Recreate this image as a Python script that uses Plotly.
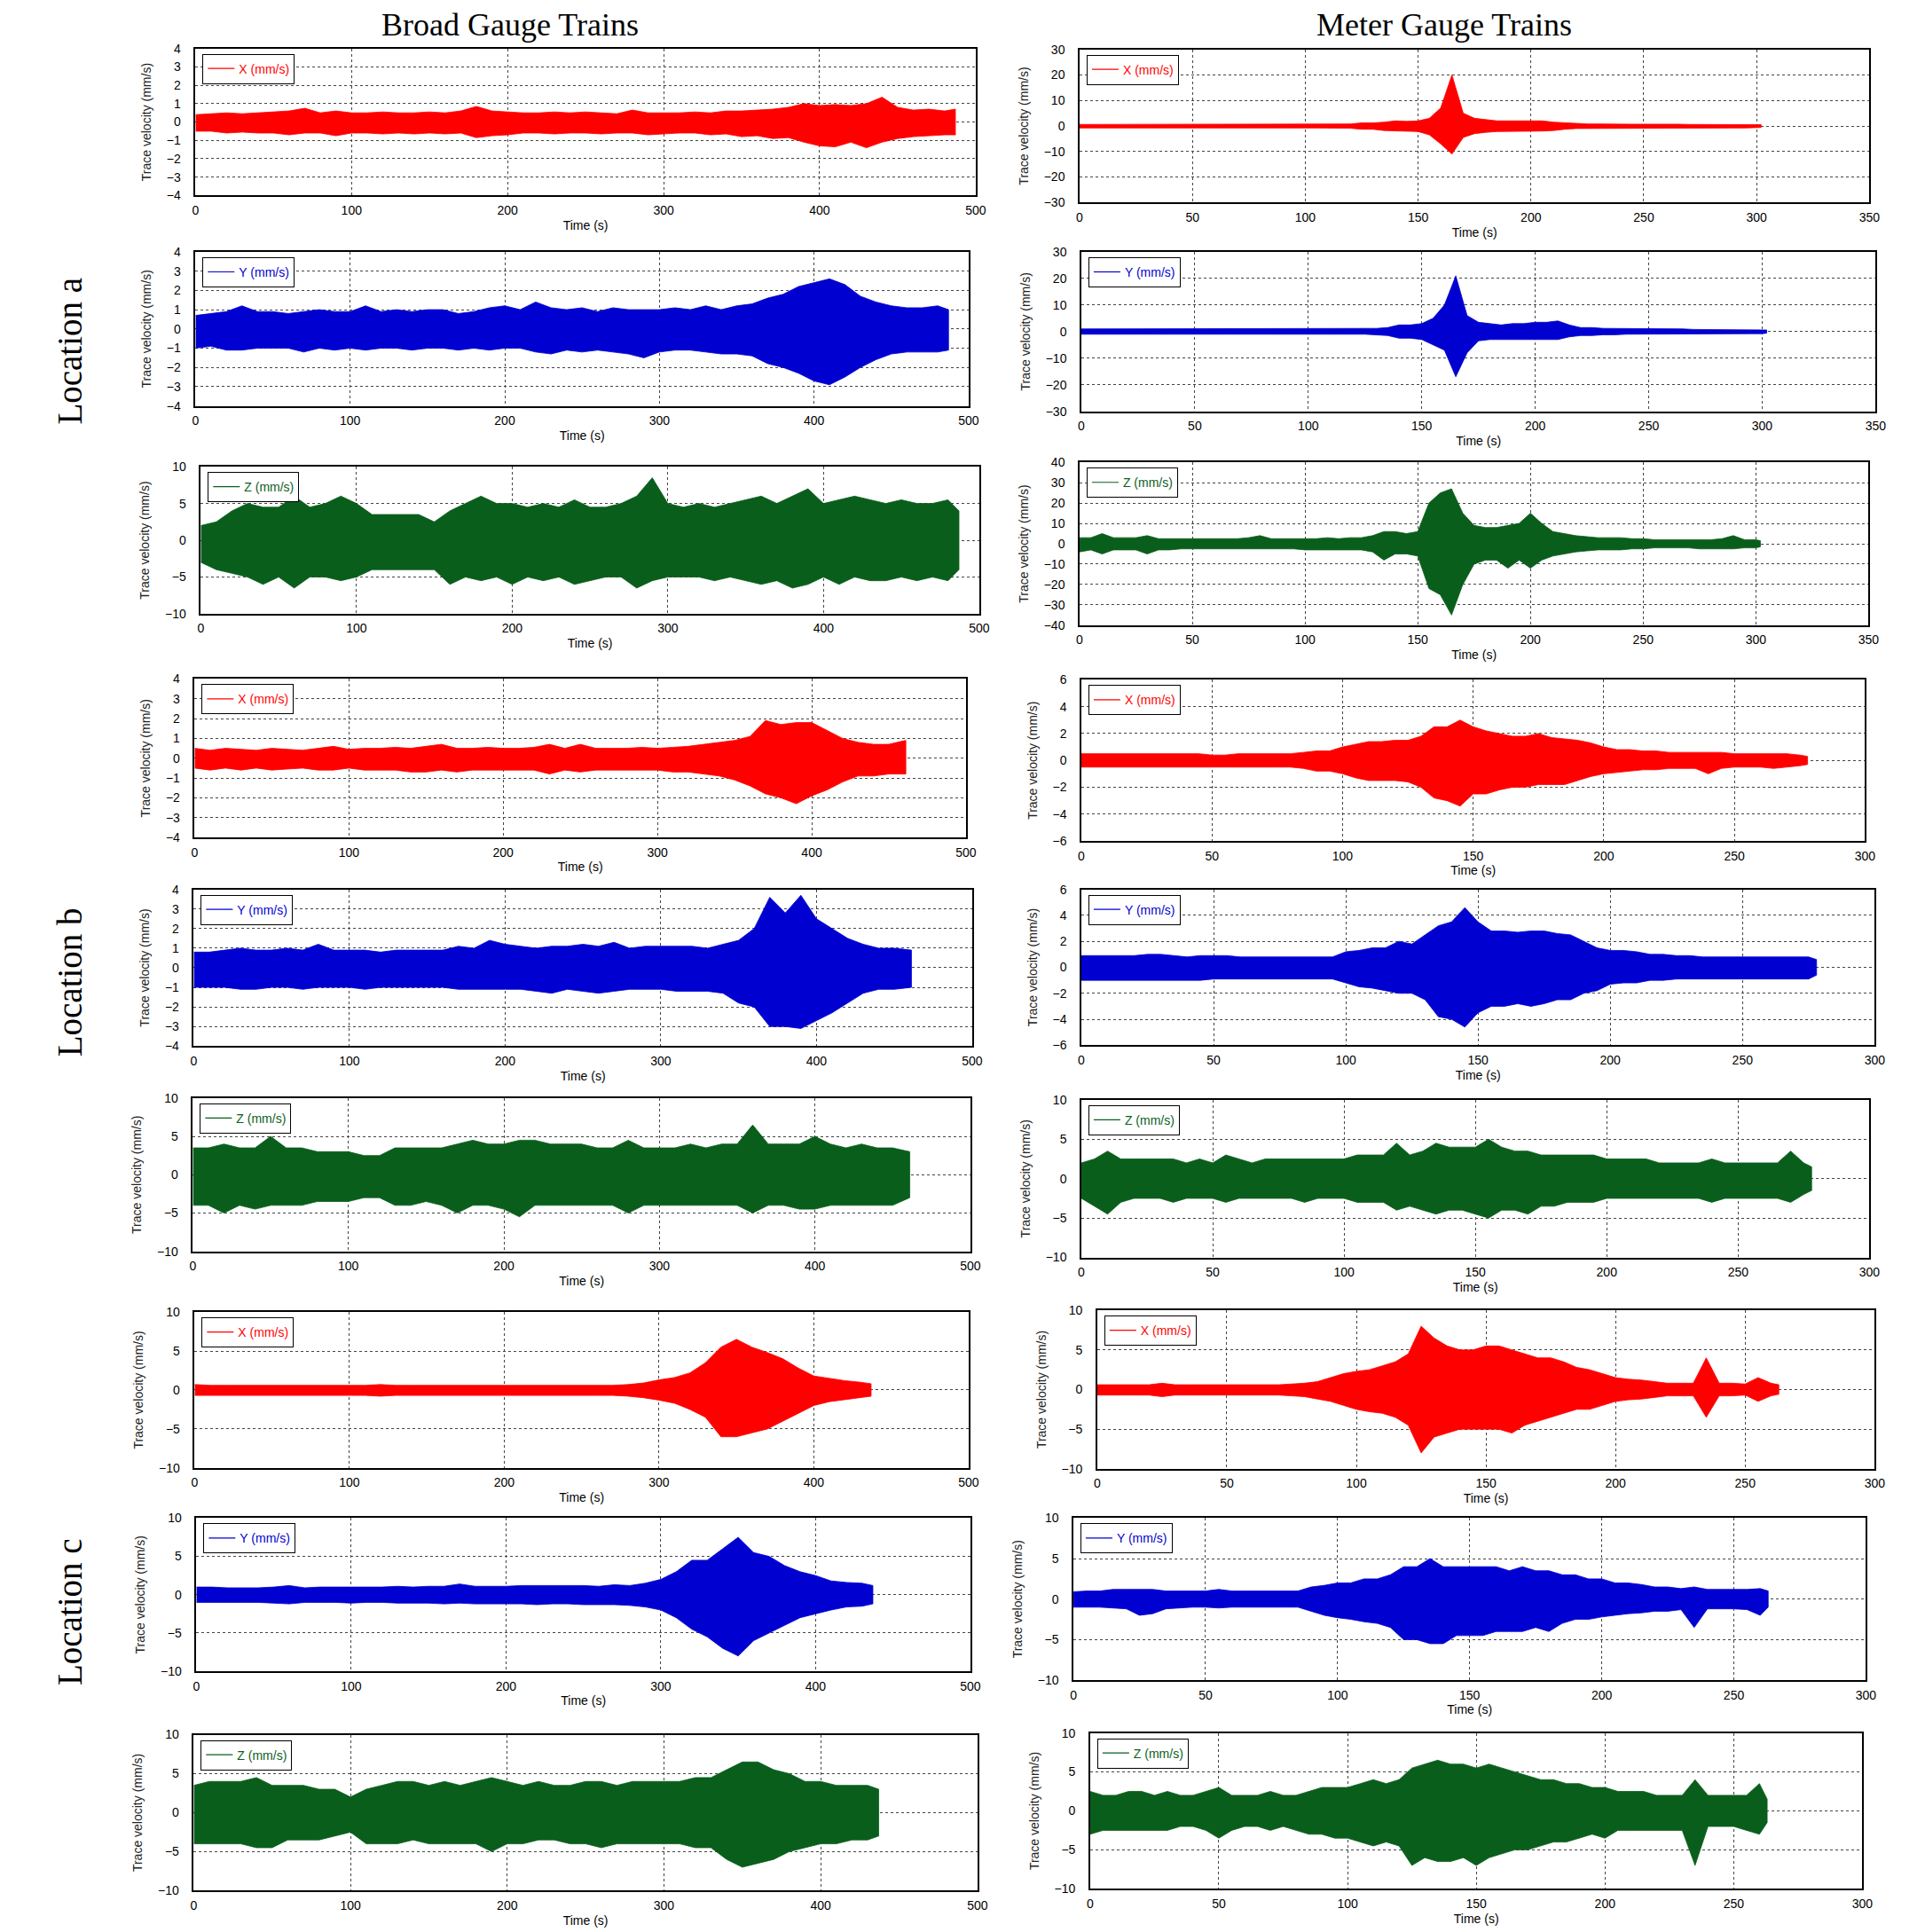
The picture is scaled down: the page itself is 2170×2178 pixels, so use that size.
import plotly.graph_objects as go

# ---------------- sampling times (s) of the envelope readings ----------------
T_BG_A = [0,10,20,30,40,50,60,70,80,90,100,110,120,130,140,150,160,170,180,190,200,210,220,230,240,250,260,270,280,290,300,310,320,330,340,350,360,370,380,390,400,410,420,430,440,450,460,470,480,487]
T_BG_B = [0,10,20,30,40,50,60,70,80,90,100,110,120,130,140,150,160,170,180,190,200,210,220,230,240,250,260,270,280,290,300,310,320,330,340,350,360,370,380,390,400,410,420,430,440,450,461]
T_BG_C = [0,10,20,30,40,50,60,70,80,90,100,110,120,130,140,150,160,170,180,190,200,210,220,230,240,250,260,270,280,290,300,310,320,330,340,350,360,370,380,390,400,410,420,430,437]
T_MG_A = [0,5,10,15,20,25,30,35,40,45,50,55,60,65,70,75,80,85,90,95,100,105,110,115,120,125,130,135,140,145,150,155,160,165,170,175,180,185,190,195,200,205,210,215,220,225,230,235,240,245,250,255,260,265,270,275,280,285,290,295,300,302]
T_MG_B = [0,5,10,15,20,25,30,35,40,45,50,55,60,65,70,75,80,85,90,95,100,105,110,115,120,125,130,135,140,145,150,155,160,165,170,175,180,185,190,195,200,205,210,215,220,225,230,235,240,245,250,255,260,265,270,275,278]
T_MG_C = [0,5,10,15,20,25,30,35,40,45,50,55,60,65,70,75,80,85,90,95,100,105,110,115,120,125,130,135,140,145,150,155,160,165,170,175,180,185,190,195,200,205,210,215,220,225,230,235,240,245,250,255,260,263]

# ---------------- trace velocity envelopes (mm/s): upper / lower ----------------
# Broad gauge, location a
BG_A_X_UP = [0.4,0.45,0.5,0.45,0.5,0.55,0.6,0.75,0.5,0.6, 0.5,0.5,0.55,0.5,0.5,0.55,0.5,0.6,0.85,0.6, 0.55,0.5,0.5,0.55,0.5,0.55,0.5,0.45,0.65,0.5, 0.5,0.5,0.55,0.5,0.6,0.6,0.65,0.7,0.8,1.0, 0.9,0.95,0.9,1.0,1.35,0.8,0.65,0.7,0.6, 0.7]
BG_A_X_LO = [-0.5,-0.5,-0.6,-0.55,-0.6,-0.6,-0.7,-0.6,-0.6,-0.75, -0.6,-0.6,-0.65,-0.6,-0.65,-0.6,-0.65,-0.6,-0.85,-0.75, -0.7,-0.6,-0.6,-0.65,-0.6,-0.6,-0.65,-0.6,-0.6,-0.7, -0.65,-0.6,-0.6,-0.7,-0.65,-0.8,-0.75,-0.9,-0.85,-1.1, -1.3,-1.35,-1.1,-1.4,-1.1,-0.9,-0.8,-0.75,-0.7, -0.7]
BG_A_Y_UP = [0.7,0.8,0.9,1.2,0.9,0.9,0.8,0.9,1.0,0.9, 0.9,1.2,0.9,1.0,0.9,1.0,1.0,0.8,0.9,1.1, 1.2,1.0,1.4,1.1,1.0,1.1,0.9,1.1,1.0,1.0, 1.0,1.1,1.0,1.2,1.0,1.2,1.3,1.6,1.8,2.2, 2.4,2.6,2.3,1.7,1.4,1.2,1.1,1.1,1.2, 1.0]
BG_A_Y_LO = [-1.0,-0.9,-1.1,-1.1,-1.0,-1.0,-1.0,-1.2,-1.0,-1.1, -1.0,-1.1,-1.0,-1.0,-1.1,-1.0,-1.0,-1.1,-1.0,-1.1, -1.0,-1.0,-1.2,-1.3,-1.1,-1.2,-1.1,-1.2,-1.3,-1.5, -1.2,-1.1,-1.1,-1.2,-1.3,-1.3,-1.4,-1.8,-2.0,-2.3, -2.7,-2.9,-2.5,-2.0,-1.6,-1.3,-1.2,-1.2,-1.2, -1.1]
BG_A_Z_UP = [2.0,2.5,4.0,5.0,4.5,4.5,6.0,4.5,5.0,6.0, 5.0,3.5,3.5,3.5,3.5,2.5,4.0,5.0,6.0,5.0, 5.0,4.5,5.0,4.5,5.5,4.5,4.5,5.0,6.0,8.5, 5.0,4.5,5.0,4.5,5.0,5.5,6.0,5.0,6.0,7.0, 5.0,5.5,6.0,5.5,5.0,5.5,5.0,5.0,5.5, 4.0]
BG_A_Z_LO = [-3.0,-4.0,-4.5,-5.0,-6.0,-5.0,-6.5,-5.0,-5.0,-5.5, -5.0,-4.0,-4.0,-4.0,-4.0,-4.0,-6.0,-5.0,-5.5,-5.0, -6.0,-5.0,-5.5,-5.0,-6.0,-5.5,-5.0,-5.0,-6.5,-5.5, -5.0,-5.0,-5.0,-5.5,-5.0,-5.5,-6.0,-5.5,-6.5,-6.0, -5.0,-6.0,-5.0,-5.5,-5.5,-5.0,-5.5,-5.0,-5.5, -4.0]
# Broad gauge, location b
BG_B_X_UP = [0.5,0.4,0.5,0.45,0.4,0.5,0.45,0.4,0.5,0.6, 0.45,0.5,0.5,0.55,0.5,0.6,0.7,0.5,0.5,0.55, 0.5,0.5,0.55,0.7,0.5,0.7,0.5,0.5,0.5,0.55, 0.5,0.55,0.6,0.7,0.8,0.9,1.1,1.9,1.7,1.8, 1.8,1.4,1.0,0.8,0.7,0.7, 0.9]
BG_B_X_LO = [-0.5,-0.6,-0.5,-0.6,-0.5,-0.6,-0.55,-0.5,-0.6,-0.6, -0.5,-0.6,-0.6,-0.6,-0.7,-0.7,-0.6,-0.7,-0.6,-0.6, -0.6,-0.6,-0.6,-0.8,-0.6,-0.7,-0.6,-0.6,-0.6,-0.6, -0.6,-0.7,-0.7,-0.8,-0.9,-1.1,-1.4,-1.8,-2.0,-2.3, -1.9,-1.6,-1.2,-0.9,-0.9,-0.8, -0.8]
BG_B_Y_UP = [0.8,0.8,0.9,1.0,0.9,0.9,1.0,0.9,1.2,0.9, 0.9,0.9,0.8,0.9,0.9,0.9,0.9,1.1,1.0,1.4, 1.2,1.1,1.0,1.1,1.1,1.2,1.1,1.3,1.0,1.1, 1.1,1.1,1.1,1.0,1.2,1.4,2.0,3.6,2.8,3.7, 2.5,2.0,1.5,1.2,1.0,1.0, 0.9]
BG_B_Y_LO = [-1.0,-1.0,-1.0,-1.1,-1.1,-1.0,-1.0,-1.1,-1.0,-1.0, -1.0,-1.1,-1.0,-1.0,-1.0,-1.0,-1.0,-1.1,-1.1,-1.1, -1.1,-1.1,-1.2,-1.3,-1.1,-1.2,-1.3,-1.2,-1.1,-1.1, -1.1,-1.2,-1.2,-1.2,-1.3,-1.8,-2.0,-3.0,-3.0,-3.1, -2.7,-2.3,-1.8,-1.3,-1.1,-1.1, -1.0]
BG_B_Z_UP = [3.5,3.5,4.0,3.5,3.5,5.0,3.5,3.5,3.0,3.0, 3.0,2.5,2.5,3.5,3.5,3.5,3.5,4.0,4.5,4.0, 4.0,4.5,4.5,4.0,4.0,4.0,3.5,3.5,4.5,3.5, 3.5,3.5,4.0,3.5,4.0,4.0,6.5,4.0,4.0,4.0, 5.0,4.0,3.5,4.0,3.5,3.5, 3.0]
BG_B_Z_LO = [-4.0,-4.0,-5.0,-4.0,-4.5,-4.0,-4.0,-4.0,-3.5,-3.5, -3.5,-3.0,-3.0,-4.0,-4.0,-3.5,-4.0,-5.0,-4.0,-4.0, -4.5,-5.5,-4.0,-4.0,-4.0,-4.0,-4.0,-4.0,-5.0,-4.0, -4.0,-4.0,-4.0,-4.0,-4.0,-4.0,-5.0,-4.0,-4.0,-4.5, -4.5,-4.0,-4.0,-4.0,-4.0,-4.0, -3.0]
# Broad gauge, location c
BG_C_X_UP = [0.7,0.6,0.6,0.6,0.6,0.6,0.6,0.6,0.6,0.6, 0.6,0.6,0.7,0.6,0.6,0.6,0.6,0.6,0.6,0.6, 0.6,0.6,0.6,0.6,0.6,0.6,0.6,0.6,0.7,0.9, 1.3,1.6,2.2,3.5,5.5,6.5,5.5,4.8,4.0,2.8, 1.8,1.5,1.2,1.0, 0.8]
BG_C_X_LO = [-0.7,-0.7,-0.7,-0.7,-0.7,-0.7,-0.7,-0.7,-0.7,-0.7, -0.7,-0.7,-0.8,-0.7,-0.7,-0.7,-0.7,-0.7,-0.7,-0.7, -0.7,-0.7,-0.7,-0.7,-0.7,-0.7,-0.7,-0.7,-0.8,-1.0, -1.3,-1.7,-2.5,-3.5,-6.0,-6.0,-5.5,-5.0,-4.0,-3.0, -2.0,-1.5,-1.2,-1.0, -0.8]
BG_C_Y_UP = [1.0,1.0,0.9,0.9,0.9,1.0,1.2,0.9,1.0,1.0, 1.0,1.0,1.0,1.1,1.0,1.1,1.1,1.4,1.1,1.1, 1.1,1.2,1.2,1.2,1.2,1.2,1.1,1.3,1.2,1.5, 2.0,3.0,4.5,4.5,6.0,7.5,5.5,5.0,3.8,3.0, 2.5,1.8,1.6,1.5, 1.2]
BG_C_Y_LO = [-1.0,-1.0,-1.0,-1.0,-1.0,-1.1,-1.2,-1.0,-1.0,-1.0, -1.1,-1.0,-1.0,-1.1,-1.1,-1.1,-1.2,-1.1,-1.2,-1.2, -1.2,-1.2,-1.3,-1.2,-1.2,-1.3,-1.3,-1.3,-1.4,-1.6, -2.0,-3.0,-4.5,-5.5,-7.0,-8.0,-6.0,-5.0,-4.0,-3.0, -2.5,-2.0,-1.6,-1.5, -1.2]
BG_C_Z_UP = [3.5,4.0,4.0,4.0,4.5,3.5,3.5,3.5,3.0,3.0, 2.0,3.0,3.5,4.0,4.0,3.5,4.0,3.5,4.0,4.5, 4.0,3.5,4.0,3.5,3.5,4.0,4.0,3.5,4.0,4.0, 4.0,4.0,4.5,4.5,5.5,6.5,6.5,5.5,5.0,4.0, 4.0,3.5,3.5,3.5, 3.0]
BG_C_Z_LO = [-4.0,-4.0,-4.0,-4.0,-4.5,-4.5,-3.5,-3.5,-3.5,-3.0, -2.5,-4.0,-4.0,-4.0,-3.5,-4.0,-4.0,-4.0,-4.0,-5.0, -4.0,-4.0,-3.5,-3.5,-4.0,-4.0,-4.5,-4.0,-4.0,-4.0, -4.0,-4.0,-4.5,-4.5,-6.0,-7.0,-6.5,-6.0,-5.0,-4.5, -4.0,-4.0,-3.5,-3.5, -3.0]
# Meter gauge, location a
MG_A_X_UP = [0.6,0.6,0.6,0.6,0.6,0.6,0.6,0.6,0.6,0.6, 0.6,0.6,0.6,0.6,0.6,0.6,0.6,0.6,0.6,0.6, 0.6,0.6,0.6,0.6,0.8,1.2,1.2,1.5,2.0,1.8, 2.0,3.0,7.0,20.0,5.0,3.0,2.5,2.0,2.0,2.0, 2.2,2.0,1.5,1.2,1.0,0.8,0.8,0.7,0.7,0.7, 0.7,0.7,0.9,0.7,0.6,0.6,0.6,0.6,0.6,0.6, 0.6,0.5]
MG_A_X_LO = [-0.8,-0.8,-0.8,-0.8,-0.8,-0.8,-0.8,-0.8,-0.8,-0.8, -0.8,-0.8,-0.8,-0.8,-0.8,-0.8,-0.8,-0.8,-0.8,-0.8, -0.8,-0.8,-0.8,-0.8,-0.9,-1.3,-1.3,-1.8,-2.0,-2.0, -2.2,-3.5,-7.0,-11.0,-4.5,-3.0,-2.5,-2.2,-2.0,-2.0, -2.0,-2.0,-1.8,-1.3,-1.0,-0.9,-0.8,-0.8,-0.8,-0.8, -0.8,-0.8,-0.8,-0.8,-0.8,-0.8,-0.8,-0.8,-0.8,-0.8, -0.7,-0.6]
MG_A_Y_UP = [1.0,1.0,1.0,1.0,1.0,1.2,1.2,1.0,1.0,1.0, 1.0,1.0,1.2,1.0,1.0,1.0,1.0,1.0,1.0,1.0, 1.2,1.0,1.0,1.0,1.0,1.0,1.2,1.5,2.5,2.5, 3.0,5.0,10.0,21.0,6.0,3.5,3.0,2.5,3.0,3.0, 3.5,3.5,4.0,2.5,1.5,1.5,1.2,1.2,1.0,1.0, 1.0,1.0,1.0,1.0,0.8,0.8,0.8,0.8,0.8,0.8, 0.8,0.6]
MG_A_Y_LO = [-1.0,-1.0,-1.0,-1.0,-1.0,-1.0,-1.0,-1.0,-1.0,-1.0, -1.0,-1.0,-1.0,-1.0,-1.0,-1.0,-1.0,-1.0,-1.0,-1.0, -1.0,-1.0,-1.0,-1.0,-1.0,-1.0,-1.2,-1.5,-2.5,-2.5, -3.0,-5.0,-7.0,-17.0,-8.0,-3.5,-3.0,-3.0,-3.0,-3.0, -3.0,-3.0,-3.0,-2.0,-1.5,-1.5,-1.2,-1.2,-1.0,-1.0, -1.0,-1.0,-1.0,-1.0,-0.8,-0.8,-0.8,-0.8,-0.8,-0.8, -0.8,-0.6]
MG_A_Z_UP = [3.0,3.0,5.0,3.0,3.0,3.0,4.0,2.5,2.5,2.5, 2.5,2.5,2.5,2.5,2.5,3.0,4.0,2.5,2.5,2.5, 2.5,2.5,3.0,2.5,3.0,3.0,4.0,6.0,6.0,5.0, 6.0,20.0,25.0,27.0,15.0,9.0,8.0,8.0,9.0,10.0, 15.0,10.0,6.0,5.0,4.0,3.5,3.0,3.0,3.0,2.5, 2.5,2.0,2.0,2.0,2.0,2.0,2.0,2.5,4.0,2.0, 2.0,1.5]
MG_A_Z_LO = [-4.0,-3.0,-5.0,-3.0,-3.0,-3.0,-5.0,-3.0,-3.0,-2.5, -2.5,-2.5,-2.5,-2.5,-2.5,-2.5,-2.5,-2.5,-2.5,-2.5, -3.0,-3.0,-3.0,-3.0,-3.0,-3.0,-4.0,-8.0,-5.0,-5.0, -6.0,-22.0,-25.0,-35.0,-20.0,-10.0,-8.0,-8.0,-12.0,-8.0, -12.0,-8.0,-6.0,-5.0,-4.0,-3.5,-3.0,-3.0,-3.0,-2.5, -2.5,-2.0,-2.0,-2.0,-2.0,-2.5,-2.5,-2.5,-2.5,-2.0, -2.0,-1.5]
# Meter gauge, location b
MG_B_X_UP = [0.5,0.5,0.5,0.5,0.5,0.5,0.5,0.5,0.5,0.5, 0.4,0.4,0.5,0.5,0.5,0.5,0.5,0.6,0.7,0.7, 1.0,1.2,1.4,1.4,1.5,1.5,1.8,2.5,2.5,3.0, 2.5,2.2,2.0,1.8,1.8,2.0,1.7,1.6,1.5,1.3, 1.0,0.8,0.8,0.7,0.7,0.6,0.6,0.6,0.6,0.6, 0.5,0.5,0.5,0.5,0.5,0.4, 0.3]
MG_B_X_LO = [-0.5,-0.5,-0.5,-0.5,-0.5,-0.5,-0.5,-0.5,-0.5,-0.5, -0.5,-0.5,-0.5,-0.5,-0.5,-0.5,-0.5,-0.6,-0.8,-0.8, -1.0,-1.3,-1.5,-1.5,-1.5,-1.6,-2.0,-2.8,-3.0,-3.4, -2.5,-2.5,-2.2,-2.0,-2.0,-1.8,-1.8,-1.8,-1.5,-1.2, -1.0,-0.9,-0.8,-0.7,-0.7,-0.6,-0.6,-0.6,-1.0,-0.6, -0.5,-0.5,-0.5,-0.6,-0.5,-0.4, -0.3]
MG_B_Y_UP = [0.9,0.9,0.9,0.9,0.9,1.0,1.0,0.9,0.8,0.9, 0.9,0.9,0.8,0.8,0.8,0.8,0.8,0.8,0.8,0.8, 1.2,1.3,1.5,1.5,2.0,1.8,2.5,3.2,3.5,4.6, 3.5,2.8,2.8,2.7,2.8,2.8,2.6,2.5,2.0,1.5, 1.3,1.3,1.2,1.0,1.0,0.9,0.9,0.8,0.8,0.8, 0.8,0.8,0.8,0.8,0.8,0.8, 0.6]
MG_B_Y_LO = [-1.0,-1.0,-1.0,-1.0,-1.0,-1.0,-1.0,-1.0,-1.0,-1.0, -0.9,-0.9,-0.9,-0.9,-0.9,-0.9,-0.9,-0.9,-0.9,-0.9, -1.2,-1.5,-1.6,-1.8,-2.0,-2.0,-2.5,-3.8,-4.0,-4.6, -3.5,-3.0,-3.0,-2.8,-3.0,-2.8,-2.5,-2.5,-2.0,-1.8, -1.3,-1.2,-1.2,-1.0,-1.0,-0.9,-0.9,-0.9,-0.9,-0.9, -0.9,-0.9,-0.9,-0.9,-0.9,-0.9, -0.6]
MG_B_Z_UP = [2.0,2.5,3.5,2.5,2.5,2.5,2.5,2.5,2.0,2.5, 2.0,3.0,2.5,2.0,2.5,2.5,2.5,2.5,2.5,2.5, 2.5,3.0,3.0,3.0,4.5,3.0,3.5,4.5,4.0,4.0, 4.0,5.0,4.0,3.5,3.5,3.0,3.0,3.0,3.0,3.0, 2.5,2.5,2.5,2.5,2.0,2.0,2.0,2.0,2.5,2.0, 2.0,2.0,2.0,2.0,3.5,2.0, 1.5]
MG_B_Z_LO = [-2.5,-3.5,-4.5,-3.0,-2.5,-2.5,-2.5,-3.0,-2.5,-2.5, -2.5,-3.0,-2.5,-2.5,-2.5,-2.5,-2.5,-3.0,-2.5,-2.5, -2.5,-3.0,-3.0,-3.0,-4.0,-3.5,-4.0,-4.5,-4.0,-4.0, -4.5,-5.0,-4.0,-4.0,-4.5,-3.5,-3.5,-3.0,-3.0,-3.0, -2.5,-2.5,-2.5,-2.5,-2.5,-2.5,-2.5,-2.5,-3.0,-2.5, -2.5,-2.5,-2.5,-2.5,-3.0,-2.0, -1.5]
# Meter gauge, location c
MG_C_X_UP = [0.6,0.6,0.6,0.6,0.6,0.8,0.6,0.6,0.6,0.6, 0.6,0.6,0.6,0.6,0.6,0.7,0.8,1.0,1.5,2.0, 2.3,2.5,3.0,3.5,4.5,8.0,6.5,5.5,5.0,5.0, 5.5,5.5,5.0,4.5,4.0,4.0,3.5,2.8,2.5,2.0, 1.5,1.3,1.2,1.0,0.8,0.8,0.8,4.0,0.8,0.8, 0.7,1.5,0.8, 0.6]
MG_C_X_LO = [-0.7,-0.7,-0.7,-0.7,-0.7,-0.9,-0.7,-0.7,-0.7,-0.7, -0.7,-0.7,-0.7,-0.7,-0.7,-0.8,-0.9,-1.2,-1.5,-2.0, -2.5,-2.8,-3.0,-3.5,-4.5,-8.0,-6.0,-5.5,-5.0,-5.0, -5.0,-5.0,-5.5,-4.5,-4.0,-3.5,-3.0,-2.5,-2.5,-2.0, -1.5,-1.3,-1.2,-1.0,-0.8,-0.8,-0.8,-3.5,-0.8,-0.8, -0.7,-1.5,-0.8, -0.6]
MG_C_Y_UP = [0.9,1.0,1.0,1.2,1.2,1.2,1.2,1.0,1.0,1.0, 1.0,1.2,1.0,1.0,1.0,1.0,1.0,1.0,1.5,1.7, 2.0,2.0,2.5,2.5,3.0,4.0,4.0,5.0,4.0,4.0, 4.0,4.0,4.0,3.5,4.0,3.5,3.5,3.0,3.0,2.5, 2.5,2.0,2.0,1.8,1.5,1.5,1.3,1.5,1.2,1.2, 1.2,1.2,1.3, 1.0]
MG_C_Y_LO = [-1.0,-1.0,-1.0,-1.1,-1.2,-2.0,-1.8,-1.2,-1.1,-1.0, -1.0,-1.1,-1.0,-1.0,-1.0,-1.0,-1.0,-1.0,-1.5,-2.0, -2.3,-2.5,-2.8,-3.0,-3.5,-5.0,-5.0,-5.5,-5.5,-4.5, -4.5,-4.5,-4.0,-4.0,-4.0,-3.5,-4.0,-3.0,-2.5,-2.5, -2.2,-2.0,-1.8,-1.7,-1.5,-1.5,-1.3,-3.5,-1.2,-1.2, -1.2,-1.3,-2.0, -1.0]
MG_C_Z_UP = [2.5,2.0,2.0,2.5,2.5,2.0,2.5,2.0,2.0,2.5, 3.0,2.0,2.0,2.0,2.5,2.0,2.0,2.5,3.0,3.0, 3.0,3.5,4.0,3.5,4.0,5.5,6.0,6.5,6.0,6.0, 5.5,6.0,5.5,5.0,4.5,4.0,4.0,3.5,3.5,3.0, 3.0,2.5,2.5,2.5,2.0,2.0,2.0,4.0,2.0,2.0, 2.0,2.0,3.5, 1.5]
MG_C_Z_LO = [-3.0,-2.5,-2.5,-2.5,-2.5,-2.5,-2.5,-2.0,-2.0,-2.5, -3.5,-2.5,-2.0,-2.0,-2.5,-2.0,-2.5,-3.0,-3.0,-3.5, -3.5,-4.0,-4.5,-4.0,-4.5,-7.0,-6.0,-6.5,-6.5,-6.0, -7.0,-6.0,-5.5,-5.0,-5.0,-4.5,-4.0,-4.0,-3.5,-3.0, -3.5,-2.5,-2.5,-2.5,-2.5,-2.5,-2.5,-7.0,-2.0,-2.0, -2.0,-2.5,-3.0, -1.5]

# ---------------- text ----------------
COLUMN_TITLES = ["Broad Gauge Trains", "Meter Gauge Trains"]
ROW_LABELS = ["Location a", "Location b", "Location c"]
COMPONENTS = ["X", "Y", "Z"]
X_TITLE = "Time (s)"
Y_TITLE = "Trace velocity (mm/s)"

# ---------------- styling / layout ----------------
W, H = 2170, 2178
COLORS = {"X": "#ff0000", "Y": "#0000d0", "Z": "#0a5e1c"}
NARROW = "Liberation Sans Narrow, Arial Narrow, Liberation Sans, Arial, sans-serif"
SERIF = "Liberation Serif, Times New Roman, serif"

# plot-area boxes in pixels: (left, right, top, bottom)
LEFT_BOXES = [(218,1104,47,214),(218,1096,278,453),(224,1108,522,689),
              (217,1093,763,943),(216,1100,1002,1180),(215,1098,1239,1413),
              (217,1096,1482,1659),(219,1098,1716,1890),(216,1106,1962,2139)]
RIGHT_BOXES = [(1222,2119,48,222),(1224,2126,278,459),(1222,2118,517,702),
               (1224,2114,764,947),(1224,2125,1002,1179),(1224,2119,1241,1420),
               (1242,2125,1480,1660),(1215,2115,1716,1900),(1234,2111,1960,2137)]

BG_SERIES = [(T_BG_A, BG_A_X_UP, BG_A_X_LO), (T_BG_A, BG_A_Y_UP, BG_A_Y_LO), (T_BG_A, BG_A_Z_UP, BG_A_Z_LO),
             (T_BG_B, BG_B_X_UP, BG_B_X_LO), (T_BG_B, BG_B_Y_UP, BG_B_Y_LO), (T_BG_B, BG_B_Z_UP, BG_B_Z_LO),
             (T_BG_C, BG_C_X_UP, BG_C_X_LO), (T_BG_C, BG_C_Y_UP, BG_C_Y_LO), (T_BG_C, BG_C_Z_UP, BG_C_Z_LO)]
MG_SERIES = [(T_MG_A, MG_A_X_UP, MG_A_X_LO), (T_MG_A, MG_A_Y_UP, MG_A_Y_LO), (T_MG_A, MG_A_Z_UP, MG_A_Z_LO),
             (T_MG_B, MG_B_X_UP, MG_B_X_LO), (T_MG_B, MG_B_Y_UP, MG_B_Y_LO), (T_MG_B, MG_B_Z_UP, MG_B_Z_LO),
             (T_MG_C, MG_C_X_UP, MG_C_X_LO), (T_MG_C, MG_C_Y_UP, MG_C_Y_LO), (T_MG_C, MG_C_Z_UP, MG_C_Z_LO)]

BG_YLIM = [4, 4, 10, 4, 4, 10, 10, 10, 10]
BG_YSTEP = [1, 1, 5, 1, 1, 5, 5, 5, 5]
MG_YLIM = [30, 30, 40, 6, 6, 10, 10, 10, 10]
MG_YSTEP = [10, 10, 10, 2, 2, 5, 5, 5, 5]
MG_XLIM = [350, 350, 350, 300, 300, 300, 300, 300, 300]

panels = []
for r in range(9):
    panels.append(dict(series=BG_SERIES[r], box=LEFT_BOXES[r], xlim=500, xstep=100,
                       ylim=BG_YLIM[r], ystep=BG_YSTEP[r], comp=COMPONENTS[r % 3]))
for r in range(9):
    panels.append(dict(series=MG_SERIES[r], box=RIGHT_BOXES[r], xlim=MG_XLIM[r], xstep=50,
                       ylim=MG_YLIM[r], ystep=MG_YSTEP[r], comp=COMPONENTS[r % 3]))

fig = go.Figure()
layout = dict(width=W, height=H, margin=dict(l=0, r=0, t=0, b=0),
              paper_bgcolor="white", plot_bgcolor="white", showlegend=True)

for i, p in enumerate(panels, start=1):
    t, up, lo = p["series"]
    assert len(t) == len(up) == len(lo), (i, len(t), len(up), len(lo))
    l, r, tp, bt = p["box"]
    col = COLORS[p["comp"]]
    xa = "x" if i == 1 else f"x{i}"
    ya = "y" if i == 1 else f"y{i}"
    lg = "legend" if i == 1 else f"legend{i}"
    # envelope band of the trace
    fig.add_trace(go.Scatter(
        x=list(t) + list(t)[::-1], y=list(up) + list(lo)[::-1],
        mode="lines", fill="toself", fillcolor=col,
        line=dict(color=col, width=0.8), xaxis=xa, yaxis=ya,
        showlegend=False, hoverinfo="skip"))
    # legend entry
    fig.add_trace(go.Scatter(
        x=[None], y=[None], mode="lines", line=dict(color=col, width=1.2),
        name=f"{p['comp']} (mm/s)", xaxis=xa, yaxis=ya, legend=lg, showlegend=True))

    xdom = [l / W, r / W]
    ydom = [1 - bt / H, 1 - tp / H]
    axis_common = dict(showline=True, mirror=True, linecolor="black", linewidth=1.5,
                       showgrid=True, gridcolor="#444", griddash="dot", gridwidth=1,
                       zeroline=False, ticks="outside", tickcolor="rgba(0,0,0,0)",
                       tickfont=dict(family=NARROW, size=14, color="black"))
    layout["xaxis" if i == 1 else f"xaxis{i}"] = dict(
        axis_common, domain=xdom, anchor=ya, range=[0, p["xlim"]],
        tick0=0, dtick=p["xstep"], ticklen=3,
        title=dict(text=X_TITLE, font=dict(family=NARROW, size=14, color="black"), standoff=5))
    layout["yaxis" if i == 1 else f"yaxis{i}"] = dict(
        axis_common, domain=ydom, anchor=xa, range=[-p["ylim"], p["ylim"]],
        tick0=0, dtick=p["ystep"], ticklen=12,
        title=dict(text=Y_TITLE, font=dict(family="Liberation Sans, Arial, sans-serif", size=14, color="#222"), standoff=14))
    layout[lg] = dict(x=(l + 8) / W, y=1 - (tp + 6) / H, xanchor="left", yanchor="top",
                      bgcolor="white", bordercolor="black", borderwidth=1,
                      font=dict(family=NARROW, size=14, color=col),
                      itemwidth=30, tracegroupgap=0)

annotations = []
for txt, xc in zip(COLUMN_TITLES, [575, 1636]):
    annotations.append(dict(text=txt, x=xc / W, y=1 - 20 / H, xref="paper", yref="paper",
                            xanchor="center", yanchor="middle", showarrow=False,
                            font=dict(family=SERIF, size=36, color="black")))
for txt, yc in zip(ROW_LABELS, [390, 1107, 1822]):
    annotations.append(dict(text=txt, x=75 / W, y=1 - yc / H, xref="paper", yref="paper",
                            xanchor="center", yanchor="middle", showarrow=False, textangle=-90,
                            font=dict(family=SERIF, size=39, color="black")))
layout["annotations"] = annotations

fig.update_layout(**layout)
fig.write_html("out.html", include_plotlyjs=True,
               post_script="document.body.style.margin='0';document.body.style.padding='0';")
